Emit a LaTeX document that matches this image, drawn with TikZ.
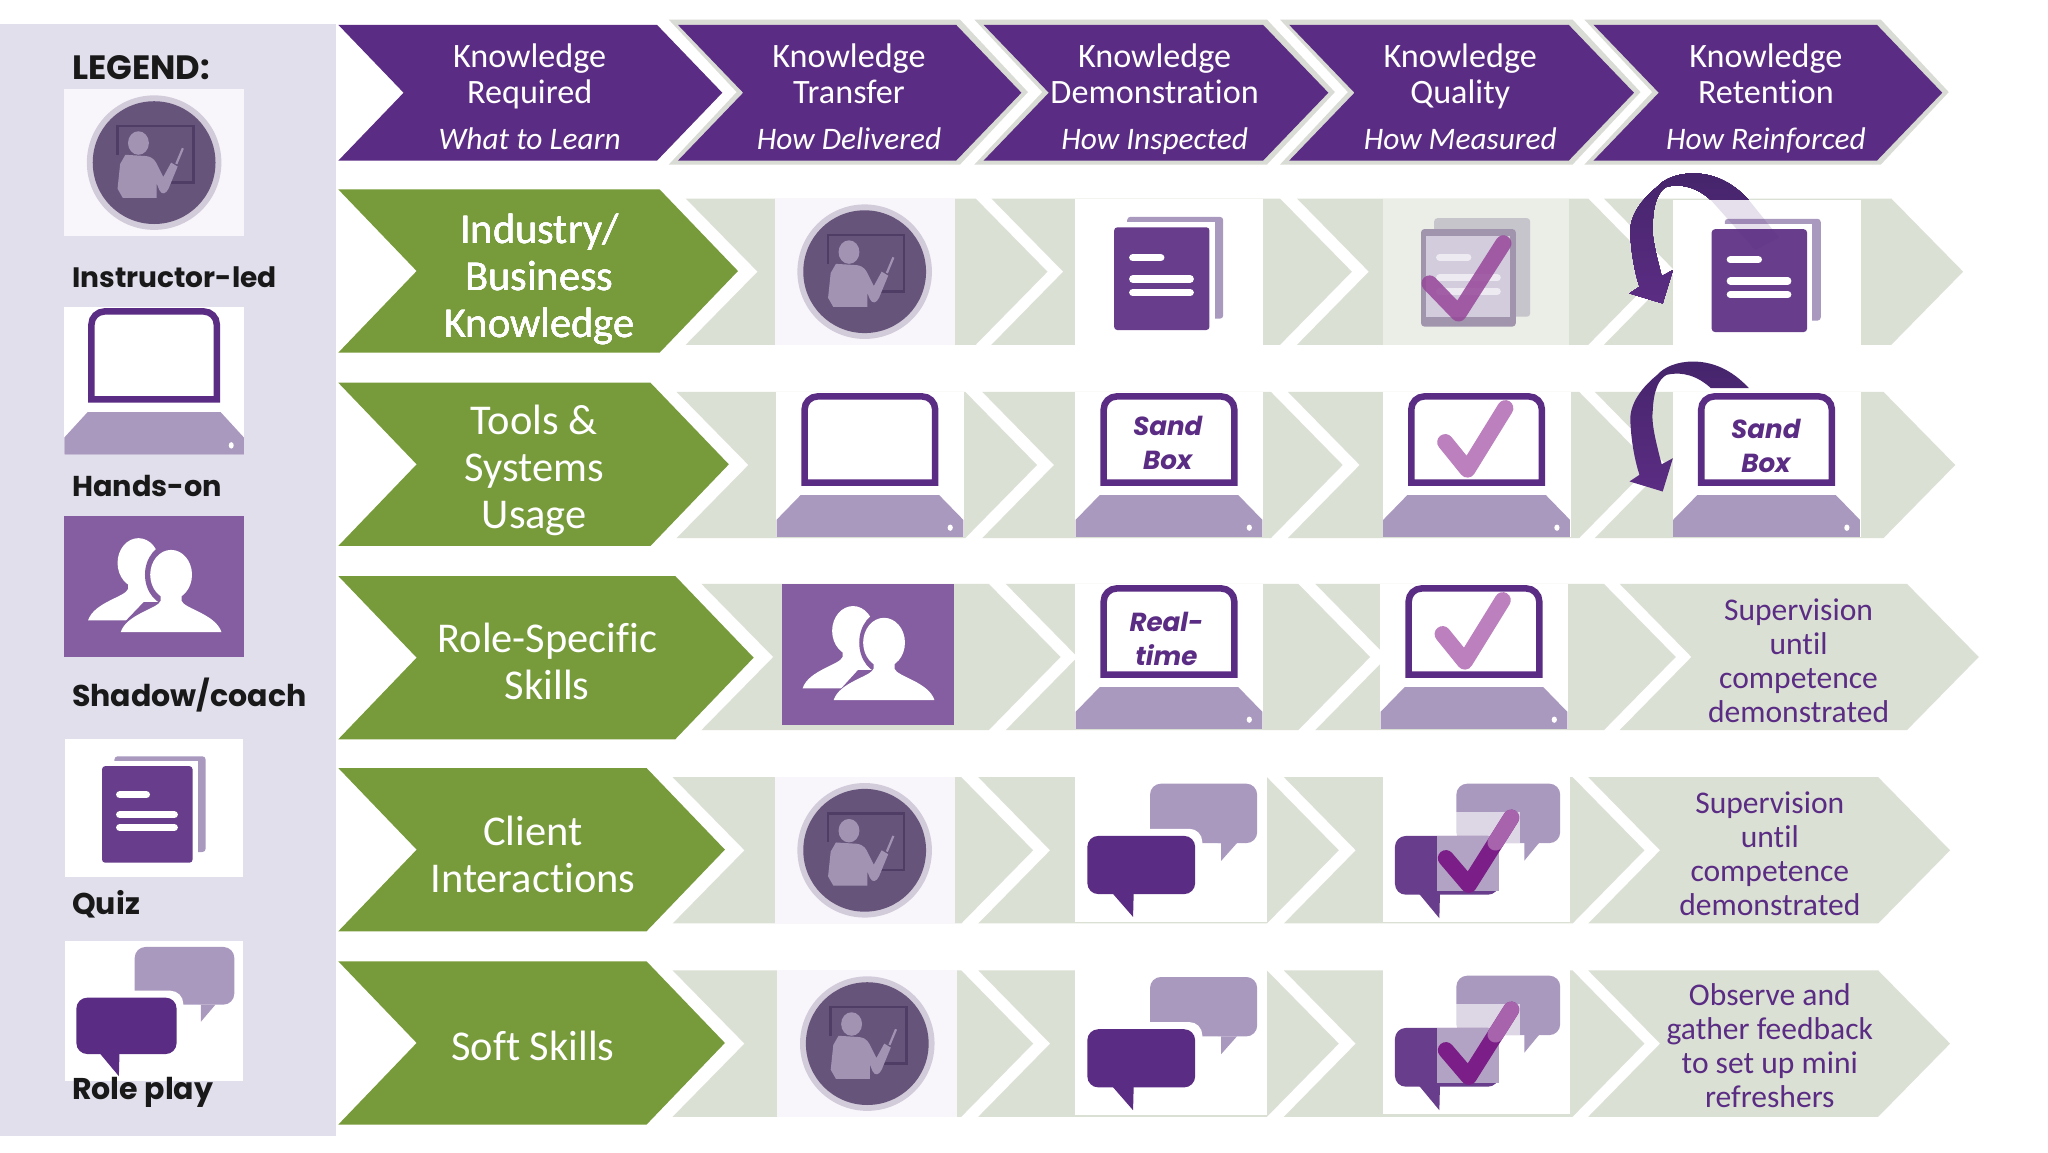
\documentclass[tikz,border=0pt]{standalone}
\usepackage{xcolor}
\usepackage{fontspec}
\setmainfont{Carlito}[Ligatures=NoCommon]
\newfontfamily\gothic{Poppins}
\usetikzlibrary{calc}
\definecolor{ktpurple}{HTML}{5B2C83}
\definecolor{ktdeep}{HTML}{46256C}
\definecolor{ktlilac}{HTML}{AA99BF}
\definecolor{ktgreen}{HTML}{779A3A}
\definecolor{ktgray}{HTML}{DBE0D5}
\definecolor{ktpanel}{HTML}{E2DFEC}
\definecolor{ktshade}{HTML}{D9DBD5}
\definecolor{ktpale}{HTML}{F8F6FB}
\definecolor{ktpage}{HTML}{673D8C}
\definecolor{ktcheck}{HTML}{BB80BD}
\definecolor{ktviolet}{HTML}{7B1E87}
\definecolor{ktring}{HTML}{D2CBDA}
\definecolor{ktdisc}{HTML}{66547A}
\definecolor{ktboard}{HTML}{4F3D66}
\definecolor{ktfigure}{HTML}{A393B3}
\definecolor{ktbox}{HTML}{845EA0}
\definecolor{ktfadeback}{HTML}{C6C5CC}
\definecolor{ktfadefront}{HTML}{A195AE}
\definecolor{ktfadeinner}{HTML}{D3CCDD}
\definecolor{ktfadetick}{HTML}{96479A}
\newcommand{\ktchevron}[6][]{%
  \path[#1] (#2,#4) -- (#3,#4) -- ({#3+#6},{(#4+#5)/2}) -- (#3,#5) -- (#2,#5)
    -- ({#2+#6},{(#4+#5)/2}) -- cycle;}
\tikzset{
  kt header/.style={fill=ktpurple},
  kt shadow/.style={fill=ktshade},
  kt row/.style={fill=ktgreen},
  kt step/.style={fill=ktgray},
  kt title/.style={
    text=white,
    align=center,
    inner sep=0pt,
    font=\fontsize{15.7}{16.8}\selectfont,
  },
  kt subtitle/.style={
    text=white,
    inner sep=0pt,
    font=\fontsize{14.4}{16}\selectfont\itshape,
  },
  kt skill/.style={
    text=white,
    align=center,
    inner sep=0pt,
    font=\fontsize{19.5}{21.6}\selectfont,
  },
  kt note/.style={
    text=ktpurple,
    align=center,
    inner sep=0pt,
    font=\fontsize{14.5}{15.6}\selectfont,
  },
  kt legend/.style={
    text=black!90,
    anchor=west,
    inner sep=0pt,
    font=\gothic\bfseries\fontsize{#1}{16}\selectfont,
  },
  kt screen/.style={
    text=ktpurple,
    align=center,
    inner sep=0pt,
    font=\gothic\bfseries\itshape\fontsize{12}{15.6}\selectfont,
  },
  kt bar/.style={white, line width=3.4pt, line cap=round},
  kt tick/.style={line width=7.4pt, line cap=round, line join=round},
  instructor icon/.pic={
    \fill[ktpale] (-69,-56.5) rectangle (69,56.5);
    \fill[ktring] (0,0) circle (51.5);
    \fill[ktdisc] (0,0) circle (47);
    \draw[ktboard, line width=1.2pt] (-28,-6) -- (-28,-28) -- (30,-28) -- (30,15) -- (8,15);
    \fill[ktfigure] (-12,-15) ellipse (8 and 9);
    \fill[ktfigure] (-22,-6) -- (-6,-5) .. controls (0,-4) and (1,-1) .. (3,3) -- (7,11)
      -- (13,0) -- (18,3) -- (11,20) .. controls (9,24) and (6,25) .. (4,21) -- (2,16)
      -- (2,27) -- (-24,27) -- (-28,20) -- (-26,1) -- cycle;
    \draw[ktfigure, line width=1pt] (17,1) -- (22,-11);
  },
  laptop icon/.pic={
    \fill[white] (-72,-55.5) rectangle (72,55.5);
    \draw[ktpurple, line width=3pt, fill=white] (-50,14) [rounded corners=6pt] -- (-50,-52)
      -- (50,-52) [sharp corners] -- (50,14) -- cycle;
    \fill[ktlilac] (-53,23.5) -- (53,23.5) -- (71.5,42.5) -- (71.5,55.5) -- (-71.5,55.5)
      -- (-71.5,42.5) -- cycle;
    \fill[white] (61.5,48.5) ellipse (2 and 2.4);
  },
  screen tick/.pic={
    \draw[ktcheck, kt tick] (-24,-17) -- (-7,4) -- (22,-43);
  },
  quiz icon/.pic={
    \fill[white] (-72,-56) rectangle (72,56);
    \fill[ktlilac, rounded corners=1.5pt] (-32,-42) rectangle (41.5,36);
    \fill[white] (-36,-38) rectangle (35,44);
    \fill[ktpage, rounded corners=1.5pt] (-42,-34) rectangle (31,44.7);
    \draw[kt bar] (-27.7,-10.7) -- (-6.3,-10.7);
    \draw[kt bar] (-27.7,5.6) -- (16.2,5.6);
    \draw[kt bar] (-27.7,16) -- (16.2,16);
  },
  quiz tick/.pic={
    \fill[white, opacity=.45] (-71,-56) rectangle (71,56);
    \fill[ktfadeback, rounded corners=1.5pt] (-32,-41) rectangle (41.5,34.5);
    \fill[ktfadefront, rounded corners=1.5pt] (-42,-32.6) rectangle (30.5,42);
    \fill[ktfadeinner] (-38,-27) rectangle (26,34.5);
    \draw[kt bar, opacity=.6] (-27.7,-11) -- (-6.3,-11);
    \draw[kt bar, opacity=.6] (-27.7,4.6) -- (16.2,4.6);
    \draw[kt bar, opacity=.6] (-27.7,15) -- (16.2,15);
    \draw[ktfadetick, kt tick, opacity=.85] (-35.5,9) -- (-13.3,32) -- (21,-21.7);
  },
  talk icon/.pic={
    \fill[white] (-73.5,-55.5) rectangle (73.5,55.5);
    \fill[ktlilac] (36,-5) -- (38.5,-5) -- (38.5,8.5) -- (50.5,-5) -- cycle;
    \fill[ktlilac, rounded corners=5pt] (-16,-50.5) rectangle (66,-5);
    \fill[white, rounded corners=6pt] (-30,-16) rectangle (24,39);
    \fill[ktpurple, rounded corners=5pt] (-64,-10.5) rectangle (18.5,34);
    \fill[ktpurple] (-46,32) -- (-29,51.5) -- (-28.5,32) -- cycle;
  },
  talk tick/.pic={
    \fill[white] (-71.5,-55.5) rectangle (71.5,55.5);
    \fill[ktlilac, rounded corners=5pt] (-15.5,-50.5) rectangle (64,-5);
    \fill[ktlilac] (36.5,-6) -- (36.5,8.5) -- (48.5,-6) -- cycle;
    \fill[white, opacity=.6] (-15.5,-28.5) rectangle (33.5,-5);
    \fill[ktpage, rounded corners=5pt] (-62.5,-10.5) rectangle (17,34.5);
    \fill[ktpage] (-45.5,32) -- (-28.5,52.5) -- (-28,32) -- cycle;
    \fill[ktlilac!90!white] (-30,-10.5) rectangle (17,32);
    \draw[ktviolet, kt tick] (-23.5,6.5) -- (-6,27) -- (26.5,-24.5);
    \draw[ktcheck!70!ktviolet, kt tick, line cap=round] (14.5,-5.5) -- (26.5,-24.5);
  },
  bust/.pic={
    \fill[white] (0,0) ellipse (16 and 19);
    \fill[white] (-8,10) -- (-8,20) .. controls (-10,26) and (-34,30) .. (-38.6,44) -- (38.6,44)
      .. controls (34,30) and (10,26) .. (8,20) -- (8,10) -- cycle;
  },
  shadow icon/.pic={
    \fill[ktbox] (-69,-54) rectangle (69,54);
    \pic at (-12,-18) {bust};
    \fill[ktbox] (13,-9) ellipse (20 and 24);
    \fill[ktbox] (-31,36) -- (-8,12) -- (30,12) -- (30,36) -- cycle;
    \pic at (13,-9) {bust};
  },
  swoop/.pic={
    \path[top color=ktdeep, bottom color=ktpurple, shading angle=0]
      (1339,153.2) .. controls (1325,138) and (1310,132.8) .. (1296.2,132.8)
      .. controls (1284,132.8) and (1274,137) .. (1268.8,143)
      .. controls (1254,155) and (1247,168) .. (1248.3,180)
      .. controls (1249,195) and (1252,210) .. (1255.2,219.5)
      -- (1247.6,224.6) -- (1273,232.3) -- (1280.8,206.8) -- (1272.2,211.5)
      .. controls (1268,195) and (1264,180) .. (1265.4,170)
      .. controls (1266,155) and (1270,146) .. (1276,143)
      .. controls (1288,140) and (1300,144) .. (1309.9,153.2) -- cycle;
  },
}
\begin{document}
\begin{tikzpicture}[x=0.6pt,y=-0.6pt]
  \useasboundingbox[fill=white] (0,0) rectangle (1568,882);
  % legend panel
  \fill[ktpanel] (0,18) rectangle (257,870);
  \pic at (118,124.5) {instructor icon};
  \pic[xscale=.96,yscale=1.02] at (118,291.5) {laptop icon};
  \pic at (118,449) {shadow icon};
  \pic[xscale=.95,yscale=.94] at (118,618.5) {quiz icon};
  \pic[xscale=.93,yscale=.97] at (118,774) {talk icon};
  \node[kt legend=15.5] (legendtitle) at (55,52) {LEGEND:};
  \node[kt legend=12.9] (instructor) at (55,212) {Instructor-led};
  \node[kt legend=13.2] (handson) at (55,372) {Hands-on};
  \node[kt legend=13.8] (shadow) at (55,532) {Shadow/coach};
  \node[kt legend=13.8] (quiz) at (55,692) {Quiz};
  \node[kt legend=13.8] (roleplay) at (55,836) {Role play};
  % header arrows
  \ktchevron[kt header]{259}{503}{19}{123}{50}
  \foreach \l/\r in {519/732,753/967,987/1201,1220/1437} {
    \ktchevron[kt shadow]{\l-7}{\r+3}{15}{126}{52}
    \ktchevron[kt header]{\l}{\r}{19}{123}{50}
  }
  \foreach \i/\cx/\what/\how in {1/405.5/Required/What to Learn,2/650/Transfer/How Delivered,
      3/884/Demonstration/How Inspected,4/1118/Quality/How Measured,5/1352/Retention/How Reinforced} {
    \node[kt title] (head\i) at (\cx,60) {Knowledge\strut\\\what\strut};
    \node[kt subtitle] (how\i) at (\cx,109) {\how\strut};
  }
  % skill arrows
  \foreach \top/\r in {145/505,293/498,441/517,588/495,736/495}
    \ktchevron[kt row]{259}{\r}{\top}{\top+125}{60}
  \node[kt skill] (skill1) at (413,215) {Industry/\strut\\Business\strut\\Knowledge\strut};
  \node[kt skill] (skill2) at (409,361.5) {Tools \&\strut\\Systems\strut\\Usage\strut};
  \node[kt skill] (skill3) at (419,510) {Role-Specific\strut\\Skills\strut};
  \node[kt skill] (skill4) at (408,658) {Client\strut\\Interactions\strut};
  \node[kt skill] (skill5) at (408,805) {Soft Skills\strut};
  % gray steps
  \foreach \top/\list in {152/{525/747,759/980,993/1216,1228/1448},
      300/{518/739,752/973,986/1209,1221/1442},
      447/{537/757,770/994,1007/1228,1240/1460},
      595/{515/736,749/970,983/1204,1216/1438},
      743/{515/736,749/970,983/1204,1216/1438}}
    \foreach \l/\r in \list
      \ktchevron[kt step]{\l}{\r}{\top}{\top+112}{55}
  \pic at (0,0) {swoop};
  \pic at (0,144) {swoop};
  % row 1
  \pic at (662,208) {instructor icon};
  \pic at (895,208) {quiz icon};
  \pic at (1130,208) {quiz tick};
  \pic at (1352.5,209.5) {quiz icon};
  \fill[ktpurple, opacity=.15] (1309.9,153.2) -- (1339,153.2) -- (1362,181.8) -- (1344,191.5) -- cycle;
  % row 2
  \pic at (666,355.5) {laptop icon};
  \pic at (895,355.5) {laptop icon};
  \node[kt screen] (sandA) at (894,341.5) {Sand\strut\\Box\strut};
  \pic at (1130.5,355.5) {laptop icon};
  \pic at (1130.5,355.5) {screen tick};
  \pic at (1352.5,355.5) {laptop icon};
  \node[kt screen] (sandB) at (1352,343.5) {Sand\strut\\Box\strut};
  % row 3
  \pic[xscale=.95] at (664.5,501) {shadow icon};
  \pic at (895,502.5) {laptop icon};
  \node[kt screen] (realtime) at (893,491.5) {Real-\strut\\time\strut};
  \pic at (1128.5,502.5) {laptop icon};
  \pic at (1128.5,502.5) {screen tick};
  \node[kt note] (noteA) at (1377,509) {Supervision\strut\\until\strut\\competence\strut\\demonstrated\strut};
  % row 4
  \pic at (662,651) {instructor icon};
  \pic at (896.5,650.5) {talk icon};
  \pic at (1130.5,650.5) {talk tick};
  \node[kt note] (noteB) at (1355,657) {Supervision\strut\\until\strut\\competence\strut\\demonstrated\strut};
  % row 5
  \pic at (664,799) {instructor icon};
  \pic at (896.5,798.5) {talk icon};
  \pic at (1130.5,797.5) {talk tick};
  \node[kt note] (noteC) at (1355,804) {Observe and\strut\\gather feedback\strut\\to set up mini\strut\\refreshers\strut};
\end{tikzpicture}
\end{document}
